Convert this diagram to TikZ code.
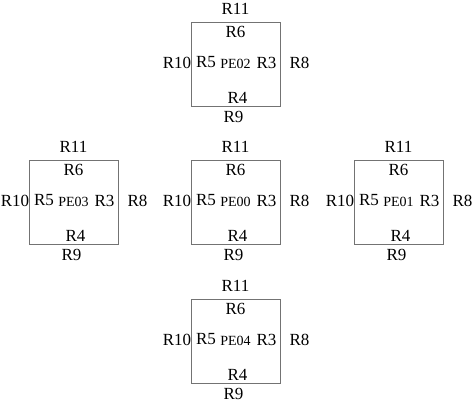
\documentclass[tikz,border=0pt]{standalone}
\usepackage{fontspec}
\setmainfont{Liberation Serif}
\usepackage{tikz}
\usetikzlibrary{positioning}

\begin{document}
\begin{tikzpicture}[
  x=1pt, y=1pt,
  every node/.style={font=\fontsize{17}{17}\selectfont},
  pebox/.style={rectangle, draw=black!55, line width=0.8pt, minimum width=89pt, minimum height=84pt, inner sep=0pt},
  pename/.style={font=\fontsize{14}{14}\selectfont, inner sep=0pt},
  reg/.style={inner sep=0pt},
]
  \useasboundingbox (0,0) rectangle (474,402);

  % Processing elements with their register labels
  \foreach \pe/\px/\py in {pe02/235.5/338, pe03/73.5/200, pe00/235.5/200, pe01/398.5/200, pe04/235.5/61}{
    \node[pebox] (\pe) at (\px,\py) {};
    \node[pename] (\pe-name) at (\pe.center) {\MakeUppercase{\pe}};
    \node[reg] (\pe-r11) at ([yshift=55pt]\pe.center) {R11};
    \node[reg] (\pe-r6) at ([yshift=32pt]\pe.center) {R6};
    \node[reg] (\pe-r10) at ([shift={(-58.5pt,1.5pt)}]\pe.center) {R10};
    \node[reg] (\pe-r5) at ([shift={(-29.5pt,1.5pt)}]\pe.center) {R5};
    \node[reg] (\pe-r3) at ([shift={(31pt,1.5pt)}]\pe.center) {R3};
    \node[reg] (\pe-r8) at ([shift={(64pt,1.5pt)}]\pe.center) {R8};
    \node[reg] (\pe-r4) at ([shift={(2pt,-33.5pt)}]\pe.center) {R4};
    \node[reg] (\pe-r9) at ([shift={(-2pt,-52.5pt)}]\pe.center) {R9};
  }
\end{tikzpicture}
\end{document}
